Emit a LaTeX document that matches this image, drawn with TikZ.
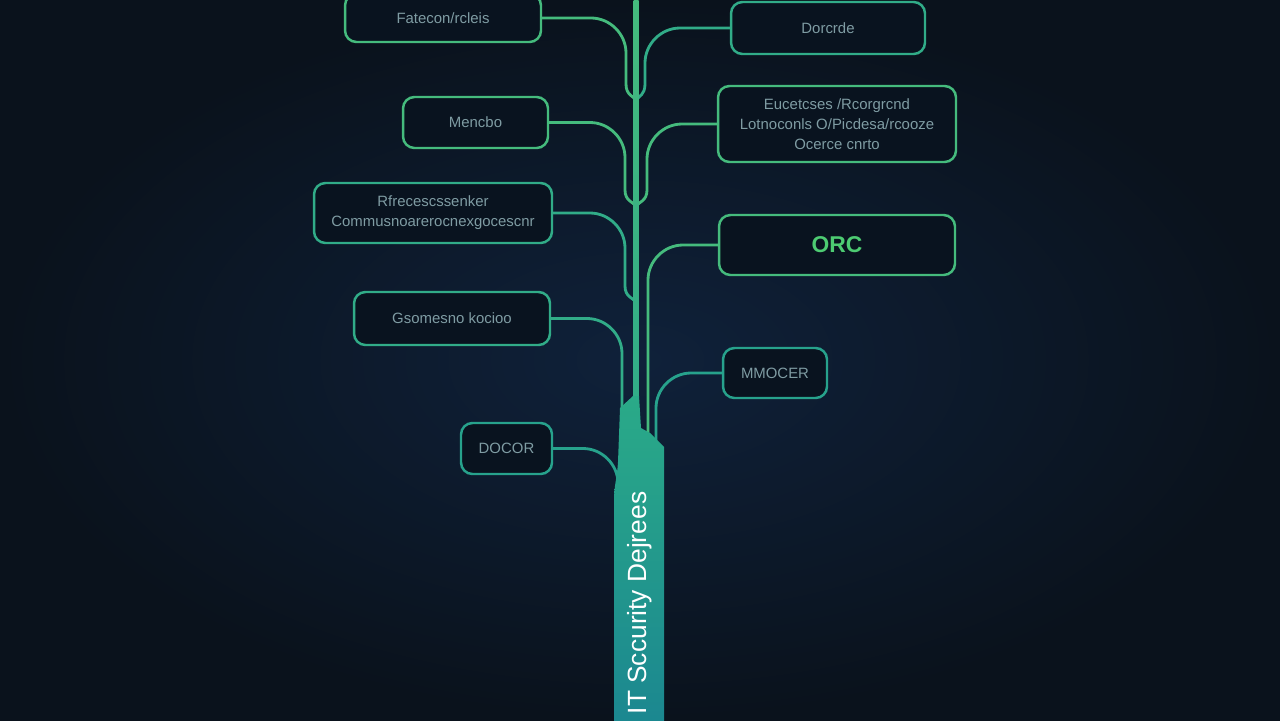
\documentclass[tikz,border=0pt]{standalone}
\usepackage{fontspec}
\setmainfont{Liberation Sans}
\usepackage{tikz}
\usetikzlibrary{positioning,calc}

\definecolor{bgedge}{HTML}{0A121C}
\definecolor{bgmid}{HTML}{0F213A}
\definecolor{boxfill}{HTML}{09131F}
\definecolor{lineA}{HTML}{45BB7D}
\definecolor{lineB}{HTML}{31AC88}
\definecolor{lineC}{HTML}{27A28C}
\definecolor{txt}{HTML}{7F9CA3}
\definecolor{orcgreen}{HTML}{4DCB72}
\definecolor{bartop}{HTML}{2AAA88}
\definecolor{barlow}{HTML}{1B8790}

\begin{document}
\begin{tikzpicture}[
  x=0.02cm, y=-0.02cm,
  font=\fontsize{8.5}{11.4}\selectfont,
  box/.style={draw=lineA, line width=1.4pt, fill=boxfill, rounded corners=6.5pt,
              text=txt, align=center, inner sep=2pt},
  branch/.style={line width=1.6pt, draw=lineA},
  title/.style={text=white, font=\fontsize{15}{15}\selectfont, rotate=90},
]
\useasboundingbox (0,0) rectangle (1280,720);
\fill[bgedge] (0,0) rectangle (1280,720);
\shade[inner color=bgmid, outer color=bgedge] (0,0) rectangle (1280,720);
\clip (0,0) rectangle (1280,720);

\node[box, minimum width=3.92cm, minimum height=0.96cm] (fat) at (443,18) {Fatecon/rcleis};
\node[box, minimum width=3.88cm, minimum height=1.04cm, draw=lineB] (dor) at (828,28) {Dorcrde};
\node[box, minimum width=2.9cm, minimum height=1.02cm] (men) at (475.5,122.5) {Mencbo};
\node[box, minimum width=4.76cm, minimum height=1.52cm] (eve) at (837,124)
  {Eucetcses /Rcorgrcnd\\Lotnoconls O/Picdesa/rcooze\\Ocerce cnrto};
\node[box, minimum width=4.76cm, minimum height=1.2cm, draw=lineB] (rtc) at (433,213)
  {Rfrecescssenker\\Commusnoarerocnexgocescnr};
\node[box, minimum width=4.72cm, minimum height=1.2cm, text=orcgreen,
      font=\bfseries\fontsize{13}{13}\selectfont] (orc) at (837,245) {ORC};
\node[box, minimum width=3.92cm, minimum height=1.06cm, draw=lineB] (gso) at (452,318.5) {Gsomesno kocioo};
\node[box, minimum width=2.08cm, minimum height=1.0cm, draw=lineC] (mmo) at (775,373) {MMOCER};
\node[box, minimum width=1.82cm, minimum height=1.02cm, draw=lineC] (doc) at (506.5,448.5) {DOCOR};

\coordinate (j1) at (636,100);
\coordinate (j2) at (636,206);
\coordinate (j3) at (636,302);
\coordinate (j4) at (648,442);
\coordinate (j5) at (622,416);
\coordinate (j6) at (656,446);
\coordinate (j7) at (618,505);

\draw[branch] (fat.east) -- (591,18) .. controls (610,18) and (626,34) .. (626,53)
  -- (626,84) .. controls (626,95) and (633,96) .. (j1);
\draw[branch, draw=lineB] (dor.west) -- (680,28) .. controls (661,28) and (645,44) .. (645,63)
  -- (645,84) .. controls (645,95) and (639,96) .. (j1);
\draw[branch] (men.east) -- (590,122.5) .. controls (609,122.5) and (625,138.5) .. (625,157.5)
  -- (625,190) .. controls (625,201) and (633,202) .. (j2);
\draw[branch] (eve.west) -- (682,124) .. controls (663,124) and (647,140) .. (647,159)
  -- (647,190) .. controls (647,201) and (639,202) .. (j2);
\draw[branch, draw=lineB] (rtc.east) -- (590,213) .. controls (609,213) and (625,229) .. (625,248)
  -- (625,286) .. controls (625,297) and (633,298) .. (j3);
\draw[branch] (orc.west) -- (683,245) .. controls (664,245) and (648,261) .. (648,280) -- (j4);
\draw[branch, draw=lineB] (gso.east) -- (587,318.5) .. controls (606,318.5) and (622,334.5) .. (622,353.5) -- (j5);
\draw[branch, draw=lineC] (mmo.west) -- (691,373) .. controls (672,373) and (656,389) .. (656,408) -- (j6);
\draw[branch, draw=lineC] (doc.east) -- (583,448.5) .. controls (602,448.5) and (618,464.5) .. (618,483.5) -- (j7);

\shade[top color=lineA, bottom color=lineB] (633.5,-5) rectangle (638.5,410);
\shade[top color=bartop, bottom color=barlow]
  (633,396) -- (620,408) -- (618,462) .. controls (617,478) and (614,486) .. (614,500)
  -- (614,725) -- (664,725) -- (664,447) -- (650,433) -- (641,428) -- (639,396) -- cycle;

\node[title] (deg) at (640,603) {IT Sccurity Dejrees};
\end{tikzpicture}
\end{document}
